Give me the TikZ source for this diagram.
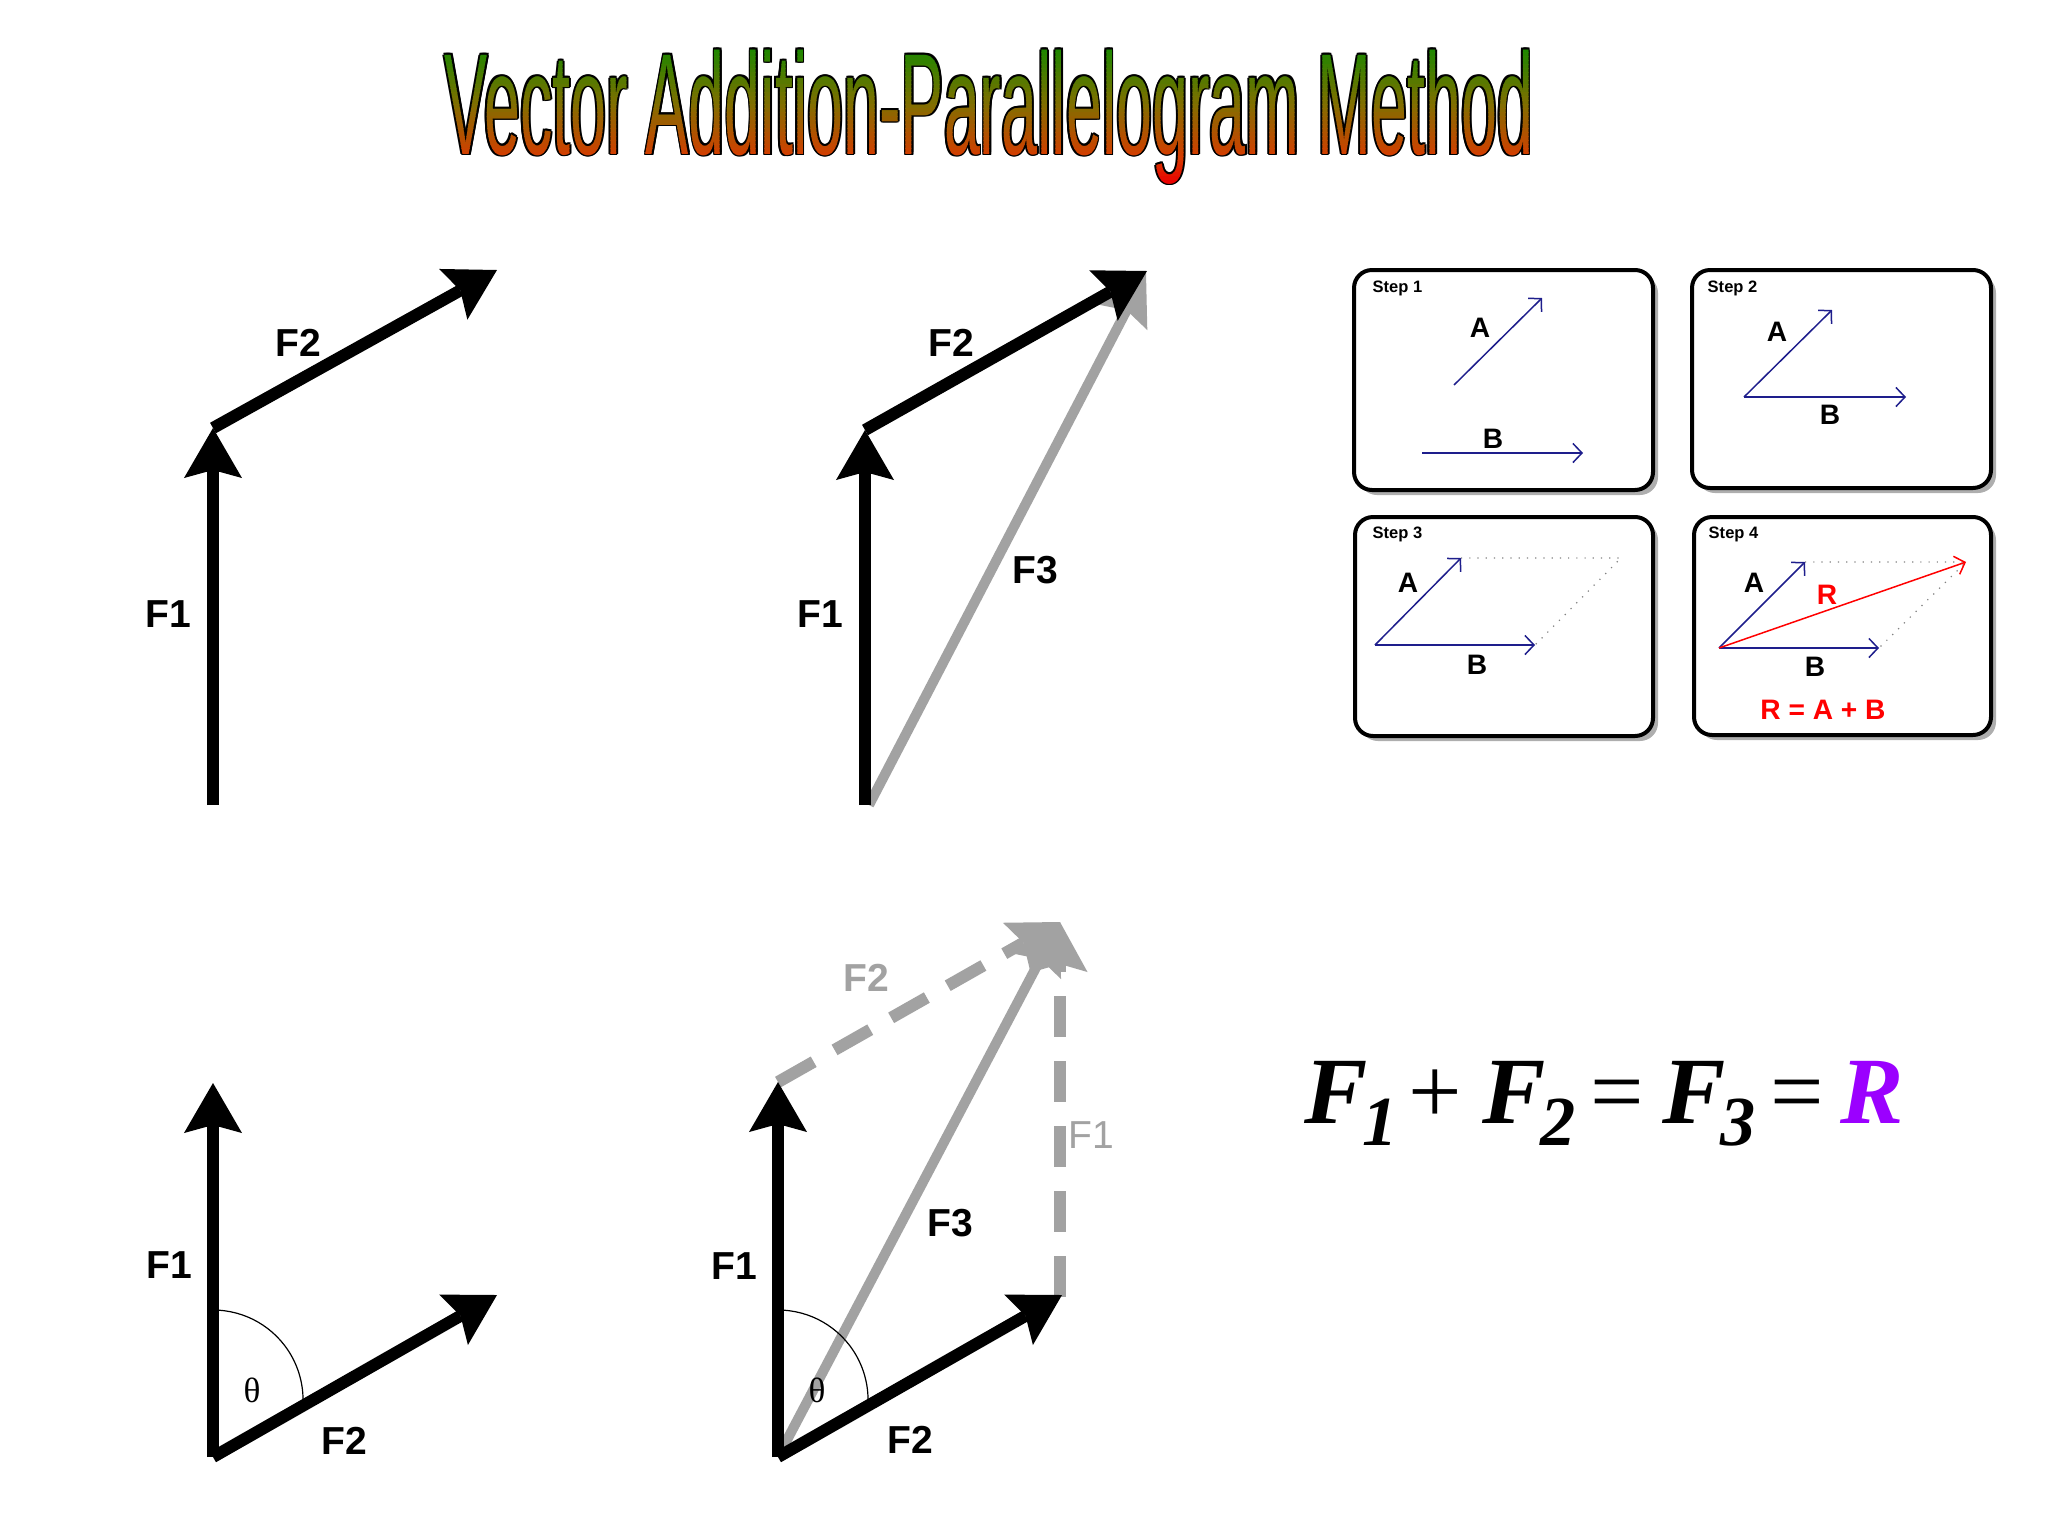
\documentclass[tikz,border=0pt]{standalone}
\usepackage{fontspec}
\setmainfont{Liberation Sans}
\newfontfamily\serifF{Liberation Serif}
\usetikzlibrary{arrows.meta,shadows}
\definecolor{vgray}{RGB}{162,162,162}
\definecolor{navyv}{RGB}{30,30,140}
\definecolor{purpR}{RGB}{155,0,255}
\definecolor{dotg}{RGB}{130,130,130}
\newcommand\ttltext{\resizebox{10.88cm}{\height}{\fontsize{41}{41}\selectfont Vector Addition-Parallelogram Method}}
\tikzset{
 bigvec/.style={line width=0.12cm, -{Stealth[length=0.5cm,width=0.58cm,inset=0.08cm,line width=0pt]}},
 grayvec/.style={draw=vgray, line width=0.10cm, -{Stealth[length=0.5cm,width=0.55cm,inset=0.08cm,line width=0pt]}},
 graydash/.style={draw=vgray, line width=0.12cm, dash pattern=on 0.41cm off 0.24cm, -{Stealth[length=0.5cm,width=0.55cm,inset=0.08cm,line width=0pt]}},
 flabel/.style={font=\fontsize{11.1}{13}\selectfont\bfseries, inner sep=0},
 glabel/.style={flabel, text=vgray},
 glabelr/.style={font=\fontsize{11.1}{13}\selectfont, inner sep=0, text=vgray},
 thetalab/.style={font=\serifF\fontsize{10}{11}\selectfont, inner sep=0},
 anglearc/.style={line width=0.012cm},
 stepbox/.style={draw=black, line width=0.04cm, rounded corners=0.18cm, fill=white, drop shadow={shadow xshift=0.05cm, shadow yshift=-0.05cm, fill=black!45, opacity=0.7}},
 steptxt/.style={font=\fontsize{4.7}{5}\selectfont\bfseries, anchor=base west, inner sep=0},
 ablab/.style={font=\fontsize{8}{9}\selectfont\bfseries, inner sep=0},
 svec/.style={draw=navyv, line width=0.015cm, -{Straight Barb[length=0.09cm,width=0.19cm]}},
 rvec/.style={svec, draw=red},
 dotl/.style={draw=dotg, line width=0.012cm, dotted},
 ttlnode/.style={anchor=base west, inner sep=0},
 eqbig/.style={font=\serifF\bfseries\itshape\fontsize{27}{30}\selectfont, anchor=base west, inner sep=0},
 eqsub/.style={font=\serifF\bfseries\itshape\fontsize{20}{22}\selectfont, anchor=base west, inner sep=0},
 eqop/.style={font=\serifF\fontsize{27}{30}\selectfont, anchor=base west, inner sep=0},
}
\begin{document}
\begin{tikzpicture}[x=0.01cm,y=-0.01cm]
\fill[white] (0,0) rectangle (2048,1536);
\useasboundingbox (0,0) rectangle (2048,1536);

% ---------- title ----------
\foreach \dx/\dy [count=\k] in {-1.8/0,1.8/0,0/-1.8,0/1.8,-1.3/-1.3,1.3/-1.3,-1.3/1.3,1.3/1.3}
  \node[ttlnode, text=black] (tsh\k) at (444+\dx,154+\dy) {\ttltext};
\foreach \i in {0,...,37} {
  \pgfmathsetmacro\ya{44+4*\i}
  \pgfmathsetmacro\yb{\ya+4.6}
  \pgfmathsetmacro\ym{\ya+2}
  % piecewise gradient: green -> olive -> orange -> red
  \pgfmathtruncatemacro\rr{\ym<105 ? 30+100*max(0,(\ym-50))/55 : (\ym<158 ? 130+85*(\ym-105)/53 : 215+20*min(1,(\ym-158)/25))}
  \pgfmathtruncatemacro\gg{\ym<105 ? 135-25*max(0,(\ym-50))/55 : (\ym<158 ? 110-50*(\ym-105)/53 : 60-60*min(1,(\ym-158)/25))}
  \definecolor{bandc}{RGB}{\rr,\gg,0}
  \begin{scope}
    \clip (430,\ya) rectangle (1560,\yb);
    \node[ttlnode, text=bandc] (tb\i) at (444,154) {\ttltext};
  \end{scope}
}

% ---------- top-left ----------
\coordinate (a1s) at (213,805);
\coordinate (a1t) at (213,428);
\coordinate (a2t) at (497,270);
\draw[bigvec] (a1s) -- (a1t);
\draw[bigvec] (a1t) -- (a2t);
\node[flabel] (aF1) at (168,614) {F1};
\node[flabel] (aF2) at (298,343) {F2};

% ---------- top-middle ----------
\coordinate (b1s) at (865,805);
\coordinate (b1t) at (865,430);
\coordinate (b2t) at (1147,271);
\coordinate (b3s) at (869,805);
\coordinate (b3t) at (1146,273);
\draw[grayvec] (b3s) -- (b3t);
\draw[bigvec] (b1s) -- (b1t);
\draw[bigvec] (b1t) -- (b2t);
\node[flabel] (bF1) at (820,614) {F1};
\node[flabel] (bF2) at (951,343) {F2};
\node[flabel] (bF3) at (1035,570) {F3};

% ---------- bottom-left ----------
\coordinate (c0) at (213,1457);
\coordinate (c1t) at (213,1083);
\coordinate (c2t) at (497,1295);
\draw[bigvec] (c0) -- (c1t);
\draw[bigvec] (c0) -- (c2t);
\draw[anglearc] (213,1310) arc[start angle=90, end angle=-4, radius=0.9cm];
\node[thetalab] (cth) at (252,1390) {θ};
\node[flabel] (cF1) at (169,1265) {F1};
\node[flabel] (cF2) at (344,1441) {F2};

% ---------- bottom-middle ----------
\coordinate (d0) at (778,1457);
\coordinate (d1t) at (778,1082);
\coordinate (d2t) at (1062,1295);
\coordinate (d3t) at (1060,922);
\coordinate (d4s) at (1060,1297);
\draw[grayvec] (d0) -- (d3t);
\draw[graydash] (d1t) -- (d3t);
\draw[graydash] (d4s) -- (d3t);
\draw[bigvec] (d0) -- (d1t);
\draw[bigvec] (d0) -- (d2t);
\draw[anglearc] (778,1310) arc[start angle=90, end angle=-4, radius=0.9cm];
\node[thetalab] (dth) at (817,1390) {θ};
\node[flabel] (dF1) at (734,1266) {F1};
\node[flabel] (dF2) at (910,1440) {F2};
\node[flabel] (dF3) at (950,1223) {F3};
\node[glabel] (dgF2) at (866,978) {F2};
\node[glabelr] (dgF1) at (1091,1135) {F1};

% ---------- step boxes ----------
\draw[stepbox] (1354,270) rectangle (1653,490);
\draw[stepbox] (1692,270) rectangle (1991,488);
\draw[stepbox] (1355,517) rectangle (1653,736);
\draw[stepbox] (1694,517) rectangle (1991,735);

% step 1
\node[steptxt] (s1) at (1372,292) {Step 1};
\coordinate (s1a0) at (1454,385);
\coordinate (s1a1) at (1542,298);
\coordinate (s1b0) at (1422,453);
\coordinate (s1b1) at (1583,453);
\draw[svec] (s1a0) -- (s1a1);
\draw[svec] (s1b0) -- (s1b1);
\node[ablab] (s1A) at (1480,328) {A};
\node[ablab] (s1B) at (1493,439) {B};

% step 2
\node[steptxt] (s2) at (1707,292) {Step 2};
\coordinate (s2o) at (1744,397);
\coordinate (s2a) at (1832,310);
\coordinate (s2b) at (1906,397);
\draw[svec] (s2o) -- (s2a);
\draw[svec] (s2o) -- (s2b);
\node[ablab] (s2A) at (1777,332) {A};
\node[ablab] (s2B) at (1830,415) {B};

% step 3
\node[steptxt] (s3) at (1372,538) {Step 3};
\coordinate (s3o) at (1375,645);
\coordinate (s3a) at (1461,558);
\coordinate (s3b) at (1535,645);
\coordinate (s3c) at (1621,558);
\draw[dotl] (s3a) -- (s3c) -- (s3b);
\draw[svec] (s3o) -- (s3a);
\draw[svec] (s3o) -- (s3b);
\node[ablab] (s3A) at (1408,583) {A};
\node[ablab] (s3B) at (1477,665) {B};

% step 4
\node[steptxt] (s4) at (1708,538) {Step 4};
\coordinate (s4o) at (1719,648);
\coordinate (s4a) at (1805,562);
\coordinate (s4b) at (1879,648);
\coordinate (s4c) at (1966,562);
\draw[dotl] (s4a) -- (s4c) -- (s4b);
\draw[svec] (s4o) -- (s4a);
\draw[svec] (s4o) -- (s4b);
\draw[rvec] (s4o) -- (s4c);
\node[ablab] (s4A) at (1754,583) {A};
\node[ablab, text=red] (s4R) at (1827,595) {R};
\node[ablab] (s4B) at (1815,667) {B};
\node[ablab, text=red] (s4eq) at (1823,710) {R = A + B};

% ---------- equation ----------
\node[eqbig] (eF1) at (1304,1123) {F};
\node[eqsub] (es1) at (1362,1145) {1};
\node[eqop] (ep) at (1408,1123) {+};
\node[eqbig] (eF2) at (1482,1123) {F};
\node[eqsub] (es2) at (1540,1145) {2};
\node[eqop] (ee1) at (1590,1123) {=};
\node[eqbig] (eF3) at (1662,1123) {F};
\node[eqsub] (es3) at (1720,1145) {3};
\node[eqop] (ee2) at (1770,1123) {=};
\node[eqbig, text=purpR] (eR) at (1840,1123) {R};
\end{tikzpicture}
\end{document}
